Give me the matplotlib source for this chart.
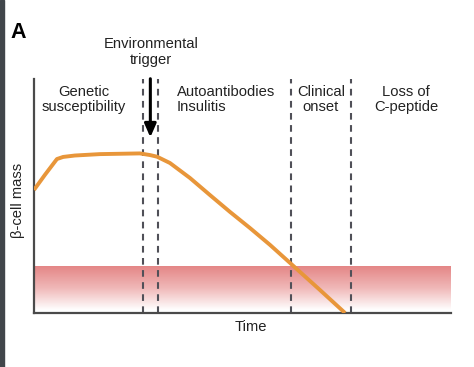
import numpy as np
import matplotlib
matplotlib.use("Agg")
import matplotlib.pyplot as plt
from matplotlib.colors import LinearSegmentedColormap
from matplotlib.patches import Rectangle

plt.rcParams['font.family'] = ['Liberation Sans', 'DejaVu Sans']

# Data (time 0-100, beta-cell mass 0-100)
curve_t = [0, 2.6, 5.5, 7.0, 9.8, 15.8, 25.4, 27.8, 29.5, 32.6, 37.4, 42.2, 47.0, 51.8, 56.6, 61.4, 68.6, 74.6]
curve_m = [52.6, 59.0, 65.8, 66.7, 67.3, 67.9, 68.2, 67.5, 66.8, 64.1, 57.7, 50.4, 43.2, 36.3, 29.1, 21.4, 9.8, 0]
stage_bounds = [26.1, 29.7, 61.6, 76.0]
band_low, band_high = 1.3, 19.7
stage_labels = ["Genetic\nsusceptibility", "Autoantibodies\nInsulitis", "Clinical\nonset", "Loss of\nC-peptide"]
stage_label_x = [12.0, 34.3, 68.8, 89.2]
stage_label_ha = ["center", "left", "center", "center"]

W, H = 474, 367
fig = plt.figure(figsize=(W / 100, H / 100), dpi=100)
fig.patch.set_facecolor('white')
# dark left border
fig.add_artist(Rectangle((0, 0), 4 / W, 1, transform=fig.transFigure, color='#41464b', zorder=0))

ax = fig.add_axes([34 / W, (H - 313) / H, 417 / W, 234 / H])
ax.set_xlim(0, 100)
ax.set_ylim(0, 100)
for s in ['top', 'right']:
    ax.spines[s].set_visible(False)
for s in ['left', 'bottom']:
    ax.spines[s].set_color('#4a4a4a')
    ax.spines[s].set_linewidth(1.6)
ax.set_xticks([])
ax.set_yticks([])

# gradient band
cmap = LinearSegmentedColormap.from_list('band', ['#ffffff', '#f0b8b8', '#e48686'])
grad = np.linspace(0, 1, 256).reshape(-1, 1)
ax.imshow(grad, cmap=cmap, origin='lower', extent=[0, 100.2, band_low, band_high],
          aspect='auto', zorder=1)

# dashed stage lines
for xb in stage_bounds:
    ax.axvline(xb, ymin=0, ymax=1, color='#505058', lw=1.5, ls=(0, (3.2, 2.6)), zorder=2)

# curve
ax.plot(curve_t, curve_m, color='#e8963a', lw=2.8, solid_capstyle='butt',
        solid_joinstyle='round', zorder=3)

txtc = '#222222'
fs = 10.6
for lab, x, ha in zip(stage_labels, stage_label_x, stage_label_ha):
    ax.text(x, 91.2, lab, ha=ha, va='center', fontsize=fs, color=txtc, linespacing=1.12)

ax.text(28.0, 111.5, "Environmental\ntrigger", ha='center', va='center', fontsize=fs,
        color=txtc, linespacing=1.12, clip_on=False)
ax.annotate("", xy=(27.9, 73.9), xytext=(27.9, 101.3), xycoords='data',
            arrowprops=dict(arrowstyle='-|>,head_width=0.35,head_length=0.8', color='black', lw=2.2),
            annotation_clip=False)

ax.text(52, -6, "Time", ha='center', va='center', fontsize=fs, color=txtc, clip_on=False)
ax.text(-3.8, 48.3, "β-cell mass", ha='center', va='center', rotation=90, fontsize=fs,
        color=txtc, clip_on=False)

fig.text(10 / W, 1 - 32 / H, "A", fontsize=15.5, fontweight='bold', color='black', va='center', ha='left')

fig.savefig('out.png', dpi=100, facecolor='white')
